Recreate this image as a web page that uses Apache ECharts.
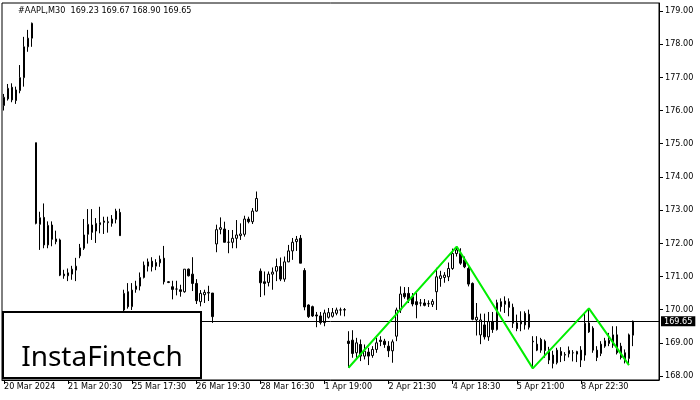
<!DOCTYPE html>
<html>
<head>
<meta charset="utf-8">
<script src="https://cdn.jsdelivr.net/npm/echarts@6/dist/echarts.min.js"></script>
<style>html,body{margin:0;padding:0;background:#fff}#c{width:700px;height:400px}</style>
</head>
<body>
<div id="c"></div>
<script>
// ---- data ----
const opens = [
176.15,176.35,176.70,176.30,176.60,176.99,177.92,178.18,
175.03,172.57,172.78,171.95,172.55,172.13,172.10,171.07,171.02,171.07,171.19,171.62,171.85,172.27,172.55,172.37,172.56,172.63,172.62,172.60,172.72,172.93,
169.99,170.54,170.09,170.61,170.71,170.97,171.31,171.46,171.31,171.41,171.55,170.84,170.69,170.62,170.60,170.54,171.22,171.07,170.79,170.24,170.45,170.50,170.50,
171.98,172.42,172.43,172.03,172.03,172.15,172.23,172.27,172.73,172.65,172.97,
171.16,170.84,170.82,171.07,171.16,171.30,170.92,171.44,171.77,172.05,172.15,
171.18,170.14,170.09,169.84,169.81,169.61,169.77,169.80,169.89,169.99,169.99,
169.05,169.08,168.70,168.95,168.60,168.72,168.62,168.80,169.08,169.05,168.90,168.76,169.20,169.99,170.49,170.49,170.39,170.24,170.20,170.20,170.18,170.16,
170.54,170.94,170.97,170.99,171.24,171.69,171.69,171.50,171.24,170.79,169.69,169.24,169.54,169.18,169.64,169.40,170.24,170.16,170.24,170.07,169.60,169.57,169.89,169.86,
169.05,168.96,169.10,169.05,168.80,168.63,168.40,168.74,168.63,168.67,168.70,168.66,168.78,168.63,169.60,169.44,168.78,168.68,168.90,168.98,168.93,169.24,168.90,168.70,168.53,169.23
];
const highs = [
176.50,176.80,176.82,176.72,177.37,178.22,178.43,178.65,
175.03,172.95,173.20,172.66,172.66,172.38,172.14,171.20,171.24,171.32,171.56,171.98,172.73,173.03,173.03,172.76,173.10,172.80,172.80,172.85,173.04,173.04,
170.60,170.80,170.80,170.87,171.12,171.45,171.54,171.58,171.52,171.63,171.92,170.86,170.87,170.87,170.75,171.22,171.24,171.58,170.92,170.59,170.60,170.72,170.50,
172.56,172.78,172.65,172.40,172.40,172.70,172.60,172.83,172.80,173.06,173.56,
171.24,171.15,171.15,171.27,171.54,171.57,171.60,171.95,172.16,172.22,172.25,
171.25,170.16,170.12,169.93,169.93,170.00,170.05,170.05,170.06,170.06,170.05,
169.35,169.38,169.15,169.10,168.95,168.85,168.90,169.15,169.20,169.12,169.05,169.10,170.06,170.70,170.68,170.68,170.50,170.50,170.32,170.32,170.28,170.32,
171.26,171.17,171.13,171.42,171.84,171.90,171.85,171.60,171.30,170.82,170.20,169.88,169.88,169.93,169.93,170.30,170.34,170.40,170.34,170.18,169.85,169.95,169.95,170.00,
169.20,169.20,169.15,169.10,168.88,168.76,168.85,168.87,168.72,168.89,168.78,168.76,168.90,169.89,170.04,169.50,168.90,169.05,169.15,169.30,169.50,169.50,169.00,168.80,169.28,169.67
];
const lows = [
176.00,176.30,176.25,176.20,176.52,176.72,177.77,177.92,
172.57,171.80,171.85,171.85,171.91,171.97,171.01,170.93,170.86,170.90,170.86,171.55,171.80,171.99,172.10,172.01,172.30,172.28,172.32,172.50,172.60,172.23,
169.84,170.03,169.99,170.51,170.58,170.94,171.15,171.15,171.19,171.29,170.76,170.80,170.31,170.43,170.39,170.51,171.00,170.56,170.17,170.10,170.20,170.26,169.60,
171.73,172.27,172.03,171.70,171.85,171.85,172.10,172.20,172.60,172.58,172.95,
170.38,170.43,170.70,170.60,170.86,170.86,170.84,171.43,171.50,171.77,171.40,
169.98,169.75,169.78,169.47,169.55,169.50,169.73,169.76,169.83,169.82,169.80,
168.25,168.55,168.50,168.45,168.50,168.33,168.55,168.70,168.90,168.85,168.57,168.40,169.05,169.90,170.33,170.20,170.10,169.74,170.10,170.10,170.08,170.08,
169.99,170.69,170.81,170.86,171.20,171.60,171.35,171.25,170.70,169.68,169.22,168.96,169.10,169.06,169.30,169.37,169.94,169.90,169.80,169.45,169.35,169.35,169.40,169.40,
168.22,168.75,168.70,168.55,168.36,168.23,168.35,168.42,168.45,168.56,168.44,168.42,168.27,168.46,169.30,168.70,168.45,168.60,168.85,168.90,168.85,168.65,168.50,168.38,168.33,168.90
];
const closes = [
176.40,176.67,176.32,176.62,176.99,177.92,178.18,178.63,
172.60,172.77,171.95,172.54,172.12,172.05,171.04,171.02,171.11,171.22,171.31,171.86,172.25,172.57,172.33,172.60,172.62,172.67,172.65,172.73,172.97,172.23,
170.49,170.09,170.59,170.71,170.97,171.34,171.44,171.29,171.42,171.52,170.84,170.82,170.61,170.62,170.55,171.22,171.02,170.79,170.27,170.49,170.52,170.52,169.79,
172.41,172.47,172.03,172.03,172.15,172.25,172.28,172.73,172.65,172.97,173.35,
170.81,170.79,171.07,171.13,171.30,170.92,171.44,171.77,172.03,172.12,171.40,
170.08,169.79,169.81,169.81,169.61,169.90,169.91,169.91,169.99,169.99,170.00,
168.98,168.68,169.00,168.60,168.75,168.60,168.80,169.00,169.04,168.95,168.76,169.03,169.99,170.47,170.39,170.30,170.17,170.15,170.20,170.13,170.18,170.25,
170.99,171.02,171.04,171.24,171.69,171.80,171.40,171.29,170.77,169.71,169.77,169.69,169.18,169.64,169.40,170.21,170.09,170.26,170.07,169.59,169.43,169.66,169.54,169.47,
169.03,168.78,168.78,168.77,168.48,168.38,168.78,168.62,168.65,168.77,168.70,168.74,168.48,169.59,169.33,168.78,168.56,168.96,169.06,169.08,169.24,168.70,168.56,168.50,169.24,169.65
];
const emptyBarsRight = 6;
const tickBars = [0,16,32,48,64,80,96,112,128,144];
const tickLabels = ["20 Mar 2024","21 Mar 20:30","25 Mar 17:30","26 Mar 19:30","28 Mar 16:30","1 Apr 19:00","2 Apr 21:30","4 Apr 18:30","5 Apr 21:00","8 Apr 22:30"];
const priceTicks = [168,169,170,171,172,173,174,175,176,177,178,179];
const patternBars = [86,113,132,146,156];
const patternPrices = [168.25,171.90,168.23,170.04,168.33];
const headerText = "#AAPL,M30  169.23 169.67 168.90 169.65";
const yMin = 167.88, yMax = 179.24;

// ---- build ----
const nBars = opens.length;
const categories = [];
for (let i = 0; i < nBars + emptyBarsRight; i++) categories.push(String(i));
const ohlc = opens.map((o, i) => [o, closes[i], lows[i], highs[i]]);
const pattern = patternBars.map((b, i) => [b, patternPrices[i]]);
const lastClose = closes[nBars - 1];
const isTick = (idx) => tickBars.indexOf(idx) >= 0;
const FONT = '"DejaVu Sans Condensed", "Liberation Sans", sans-serif';

const chart = echarts.init(document.getElementById('c'), null, {renderer: 'canvas'});
chart.setOption({
  animation: false,
  backgroundColor: '#fff',
  grid: {left: 2, right: 41, top: 3, bottom: 20, show: true, borderColor: '#000', borderWidth: 1, backgroundColor: '#fff'},
  xAxis: {
    type: 'category', data: categories, boundaryGap: true,
    axisLine: {show: true, lineStyle: {color: '#000', width: 1}},
    axisTick: {show: true, alignWithLabel: true, length: 4, interval: (i) => isTick(i), lineStyle: {color: '#000'}},
    axisLabel: {
      show: true, interval: (i) => isTick(i), align: 'left', margin: 2,
      color: '#000', fontSize: 9, fontFamily: FONT,
      formatter: (v, i) => { const k = tickBars.indexOf(Number(v)); return k >= 0 ? tickLabels[k] : ''; }
    },
    splitLine: {show: false}
  },
  yAxis: {
    type: 'value', position: 'right', min: yMin, max: yMax, scale: true,
    axisLine: {show: true, lineStyle: {color: '#000', width: 1}},
    axisTick: {show: true, length: 4, customValues: priceTicks, lineStyle: {color: '#000'}},
    axisLabel: {show: true, customValues: priceTicks, margin: 6, color: '#000', fontSize: 9, fontFamily: FONT,
      padding: [5, 0, 0, 0], formatter: (v) => Number(v).toFixed(2)},
    splitLine: {show: false}
  },
  series: [
    {
      type: 'candlestick', data: ohlc, barWidth: 2,
      itemStyle: {color: '#fff', color0: '#000', borderColor: '#000', borderColor0: '#000', borderWidth: 1},
      markLine: {
        silent: true, symbol: ['none', 'none'],
        lineStyle: {color: '#000', width: 1, type: 'solid'},
        label: {show: true, position: 'end', distance: 2, formatter: () => lastClose.toFixed(2),
          color: '#fff', backgroundColor: '#000', fontSize: 9, fontFamily: FONT, padding: [1, 3, 0, 3]},
        data: [{yAxis: lastClose}]
      }
    },
    {
      type: 'line', data: pattern, symbol: 'none', silent: true, z: 5,
      lineStyle: {color: '#00ee00', width: 2}
    }
  ],
  graphic: [
    {type: 'text', left: 18, top: 6, style: {text: headerText, fill: '#000', font: '9px ' + FONT}},
    {type: 'rect', shape: {x: 3, y: 312, width: 198, height: 66}, z: 100,
      style: {fill: '#fff', stroke: '#000', lineWidth: 2}},
    {type: 'text', x: 102, y: 358, z: 101,
      style: {text: 'InstaFintech', fill: '#000', font: '28px "Noto Sans", "Open Sans", sans-serif', align: 'center', verticalAlign: 'middle'}}
  ]
});
</script>
</body>
</html>
